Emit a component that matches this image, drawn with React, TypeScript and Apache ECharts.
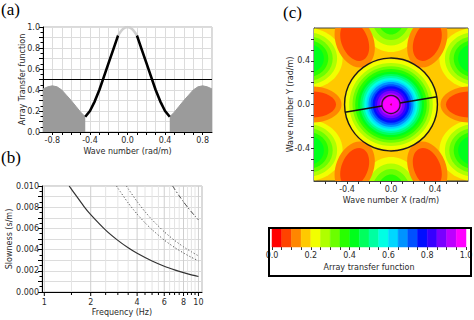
import { useEffect, useRef } from 'react';
import * as echarts from 'echarts';

// ---------- (a) array transfer function along one azimuth ----------
const waveNumber = [
  -0.9, -0.85, -0.8, -0.75, -0.7, -0.65, -0.6, -0.55, -0.5, -0.45, -0.4, -0.35, -0.3, -0.25, -0.2, -0.15, -0.1, -0.05,
  0, 0.05, 0.1, 0.15, 0.2, 0.25, 0.3, 0.35, 0.4, 0.45, 0.5, 0.55, 0.6, 0.65, 0.7, 0.75, 0.8, 0.85, 0.9,
];
const transferValue = [
  0.41, 0.43, 0.44, 0.43, 0.4, 0.35, 0.3, 0.245, 0.19, 0.145, 0.2, 0.29, 0.4, 0.53, 0.66, 0.79, 0.92, 0.98,
  1.0, 0.98, 0.92, 0.79, 0.66, 0.53, 0.4, 0.29, 0.2, 0.145, 0.19, 0.245, 0.3, 0.35, 0.4, 0.43, 0.44, 0.43, 0.41,
];
const halfPowerLevel = 0.5;
const mainLobeEdge = 0.45;
const peakCapEdge = 0.1;
const transferTicks = [0, 0.2, 0.4, 0.6, 0.8, 1.0];

// ---------- (b) slowness limits versus frequency ----------
const solidFreq = [1.45, 1.6, 1.8, 2, 2.5, 3, 3.5, 4, 5, 6, 7, 8, 9, 10];
const solidSlowness = [0.01, 0.00913, 0.00811, 0.0073, 0.00584, 0.00487, 0.00417, 0.00365, 0.00292, 0.00243, 0.00209, 0.00183, 0.00162, 0.00146];
const upperDottedFreq = [3.41, 3.5, 4, 4.5, 5, 6, 7, 8, 9, 10];
const upperDottedSlowness = [0.01, 0.00974, 0.00853, 0.00758, 0.00682, 0.00568, 0.00487, 0.00426, 0.00379, 0.00341];
const lowerDottedFreq = [2.94, 3, 3.5, 4, 4.5, 5, 6, 7, 8, 9, 10];
const lowerDottedSlowness = [0.01, 0.0098, 0.0084, 0.00735, 0.00653, 0.00588, 0.0049, 0.0042, 0.00368, 0.00327, 0.00294];
const dashedFreq = [6.8, 7, 7.5, 8, 8.5, 9, 9.5, 10];
const dashedSlowness = [0.01, 0.00971, 0.00907, 0.0085, 0.008, 0.00756, 0.00716, 0.0068];
const freqMajorTicks = [1, 2, 4, 6, 8, 10];
const freqMinorTicks = [1.5, 2.5, 3, 3.5, 4.5, 5, 5.5, 6.5, 7, 7.5, 8.5, 9, 9.5];

// ---------- (c) 2-D array transfer function ----------
const backgroundLevel = 0.17;
// [kx, ky, radius x, radius y, tilt (deg), level]
const sidelobeBands = [
  [-0.76, 0.42, 0.32, 0.28, 0, 0.2], [-0.76, 0.42, 0.27, 0.24, 0, 0.25], [-0.76, 0.42, 0.23, 0.205, 0, 0.3], [-0.76, 0.42, 0.19, 0.17, 0, 0.35], [-0.76, 0.42, 0.15, 0.135, 0, 0.4],
  [0.76, 0.42, 0.32, 0.28, 0, 0.2], [0.76, 0.42, 0.27, 0.24, 0, 0.25], [0.76, 0.42, 0.23, 0.205, 0, 0.3], [0.76, 0.42, 0.19, 0.17, 0, 0.35], [0.76, 0.42, 0.15, 0.135, 0, 0.4],
  [-0.76, -0.42, 0.32, 0.28, 0, 0.2], [-0.76, -0.42, 0.27, 0.24, 0, 0.25], [-0.76, -0.42, 0.23, 0.205, 0, 0.3], [-0.76, -0.42, 0.19, 0.17, 0, 0.35], [-0.76, -0.42, 0.15, 0.135, 0, 0.4],
  [0.76, -0.42, 0.32, 0.28, 0, 0.2], [0.76, -0.42, 0.27, 0.24, 0, 0.25], [0.76, -0.42, 0.23, 0.205, 0, 0.3], [0.76, -0.42, 0.19, 0.17, 0, 0.35], [0.76, -0.42, 0.15, 0.135, 0, 0.4],
  [0, 0.86, 0.3, 0.38, 0, 0.2], [0, 0.86, 0.24, 0.32, 0, 0.25], [0, 0.86, 0.19, 0.27, 0, 0.3], [0, 0.86, 0.14, 0.22, 0, 0.35],
  [0, -0.86, 0.3, 0.38, 0, 0.2], [0, -0.86, 0.24, 0.32, 0, 0.25], [0, -0.86, 0.19, 0.27, 0, 0.3], [0, -0.86, 0.14, 0.22, 0, 0.35],
];
const troughBands = [
  [-0.72, 0, 0.27, 0.165, 0, 0.12], [-0.72, 0, 0.22, 0.12, 0, 0.07],
  [0.72, 0, 0.27, 0.165, 0, 0.12], [0.72, 0, 0.22, 0.12, 0, 0.07],
  [-0.33, 0.58, 0.17, 0.25, 22, 0.12], [-0.33, 0.58, 0.12, 0.19, 22, 0.07],
  [0.33, 0.58, 0.17, 0.25, -22, 0.12], [0.33, 0.58, 0.12, 0.19, -22, 0.07],
  [-0.33, -0.58, 0.17, 0.25, -22, 0.12], [-0.33, -0.58, 0.12, 0.19, -22, 0.07],
  [0.33, -0.58, 0.17, 0.25, 22, 0.12], [0.33, -0.58, 0.12, 0.19, 22, 0.07],
];
const mainLobeLevels = [0.2, 0.25, 0.3, 0.35, 0.4, 0.45, 0.5, 0.55, 0.6, 0.65, 0.7, 0.75, 0.8, 0.85, 0.9, 0.95];
const mainLobeRadii = [0.415, 0.38, 0.35, 0.325, 0.3, 0.28, 0.26, 0.242, 0.223, 0.205, 0.186, 0.167, 0.147, 0.126, 0.102, 0.072];
const limitRingRadii = [0.425, 0.083];
const beamSegments = [
  [[-0.419, -0.071], [-0.082, -0.014]],
  [[0.082, 0.014], [0.419, 0.071]],
];
const colorbarEdges = [0, 0.05, 0.1, 0.15, 0.2, 0.25, 0.3, 0.35, 0.4, 0.45, 0.5, 0.55, 0.6, 0.65, 0.7, 0.75, 0.8, 0.85, 0.9, 0.95, 1.0];

const PALETTE = [
  '#FF0000', '#FF4300', '#FF8600', '#FFC900', '#F1FF00', '#AFFF00', '#6BFF00', '#28FF00', '#00FF1B', '#00FF5E',
  '#00FFA1', '#00FFE4', '#00D7FF', '#0093FF', '#0051FF', '#000EFF', '#3600FF', '#7900FF', '#BC00FF', '#FF00FF',
];
const FONT = '"DejaVu Sans", Verdana, sans-serif';
const SERIF = '"Liberation Serif", "Times New Roman", serif';
const TXT = '#2a2a2a';
const FS = 8;

function colorFor(level: number) {
  const i = Math.max(0, Math.min(19, Math.floor(level / 0.05 + 1e-6)));
  return PALETTE[i];
}

const curvePairs = waveNumber.map((k, i) => [k, transferValue[i]]);
const segment = (lo: number, hi: number) => curvePairs.filter(([k]) => k >= lo - 1e-9 && k <= hi + 1e-9);
const logPairs = (f: number[], s: number[]) => f.map((v, i) => [Math.log10(v), s[i]]);

const labelStyle = { fontSize: FS, fontFamily: FONT, color: TXT };
const nameStyle = { fontSize: FS, fontFamily: FONT, color: TXT };
const quarterLabel = (v: number) => {
  const r = Math.round(v * 10);
  return r % 4 === 0 ? (r === 0 ? '0.0' : (r / 10).toFixed(1)) : '';
};

export default function App() {
  const ref = useRef<HTMLDivElement>(null);

  useEffect(() => {
    if (!ref.current) return;
    const chart = echarts.init(ref.current, null, { renderer: 'svg' });

    const ellipseItem = (params: any, api: any) => {
      const c = api.coord([api.value(0), api.value(1)]);
      const s = api.size([api.value(2), api.value(3)]);
      return {
        type: 'ellipse',
        x: c[0],
        y: c[1],
        rotation: (api.value(4) * Math.PI) / 180,
        shape: { cx: 0, cy: 0, rx: Math.abs(s[0]), ry: Math.abs(s[1]) },
        style: { fill: colorFor(api.value(5)) },
      };
    };

    const contourData = [
      ...sidelobeBands,
      ...troughBands,
      ...mainLobeLevels.map((lv, i) => [0, 0, mainLobeRadii[i], mainLobeRadii[i], 0, lv]),
    ];

    const freqTickData = [
      ...freqMinorTicks.map((f) => [Math.log10(f), 0, 0, f]),
      ...freqMajorTicks.map((f) => [Math.log10(f), 0, 1, f]),
    ];

    const option: any = {
      animation: false,
      textStyle: { fontFamily: FONT },
      grid: [
        { left: 43, top: 27, width: 169, height: 105, show: true, borderColor: '#b5b5b5', borderWidth: 1, backgroundColor: '#fff', outerBoundsMode: 'none' },
        { left: 42, top: 186, width: 160, height: 106, show: true, borderColor: '#b5b5b5', borderWidth: 1, backgroundColor: '#fff', outerBoundsMode: 'none' },
        { left: 314, top: 28, width: 154, height: 153, show: true, borderColor: '#444', borderWidth: 1, backgroundColor: colorFor(backgroundLevel), outerBoundsMode: 'none' },
        { left: 272, top: 229, width: 194, height: 18, show: false, outerBoundsMode: 'none' },
      ],
      xAxis: [
        {
          gridIndex: 0, type: 'value', min: -0.9, max: 0.9, interval: 0.1,
          name: 'Wave number (rad/m)', nameLocation: 'middle', nameGap: 15, nameTextStyle: nameStyle, nameMoveOverlap: false,
          axisLine: { onZero: false, lineStyle: { color: '#000', width: 1 } },
          axisTick: { length: 3, lineStyle: { color: '#000' } },
          axisLabel: { ...labelStyle, margin: 4, showMinLabel: false, showMaxLabel: false, formatter: quarterLabel },
          splitLine: { show: true, lineStyle: { color: '#dcdcdc', width: 1 } },
        },
        {
          gridIndex: 1, type: 'value', min: -0.015, max: 1.023,
          name: 'Frequency (Hz)', nameLocation: 'middle', nameGap: 16, nameTextStyle: nameStyle, nameMoveOverlap: false,
          axisLine: { onZero: false, lineStyle: { color: '#000', width: 1 } },
          axisTick: { show: false }, axisLabel: { show: false }, splitLine: { show: false },
        },
        {
          gridIndex: 2, type: 'value', min: -0.7, max: 0.7, interval: 0.1,
          name: 'Wave number X (rad/m)', nameLocation: 'middle', nameGap: 15, nameTextStyle: nameStyle, nameMoveOverlap: false,
          axisLine: { onZero: false, lineStyle: { color: '#444', width: 1 } },
          axisTick: { length: 3, lineStyle: { color: '#333' } },
          axisLabel: { ...labelStyle, margin: 4, showMinLabel: false, showMaxLabel: false, formatter: quarterLabel },
          splitLine: { show: false },
        },
        {
          gridIndex: 3, type: 'value', min: 0, max: 1, interval: 0.2,
          name: 'Array transfer function', nameLocation: 'middle', nameGap: 16, nameTextStyle: nameStyle, nameMoveOverlap: false,
          axisLine: { show: false },
          axisTick: { show: true, length: 3, lineStyle: { color: '#333' } },
          minorTick: { show: true, splitNumber: 4, length: 3, lineStyle: { color: '#333' } },
          axisLabel: { ...labelStyle, margin: 4, formatter: (v: number) => v.toFixed(1) },
          splitLine: { show: false },
        },
      ],
      yAxis: [
        {
          gridIndex: 0, type: 'value', min: 0, max: 1, interval: 0.1,
          name: 'Array Transfer function', nameLocation: 'middle', nameGap: 17, nameTextStyle: nameStyle, nameMoveOverlap: false,
          axisLine: { onZero: false, lineStyle: { color: '#000', width: 1 } },
          axisTick: { length: 4, lineStyle: { color: '#000' } },
          minorTick: { show: true, splitNumber: 2, length: 2.5, lineStyle: { color: '#000' } },
          axisLabel: {
            ...labelStyle, margin: 3, showMinLabel: true, showMaxLabel: true,
            customValues: transferTicks,
            formatter: (v: number) => (Math.round(v * 10) / 10).toFixed(1),
          },
          splitLine: { show: true, lineStyle: { color: '#dcdcdc', width: 1 } },
        },
        {
          gridIndex: 1, type: 'value', min: 0, max: 0.01, interval: 0.001,
          name: 'Slowness (s/m)', nameLocation: 'middle', nameGap: 29, nameTextStyle: nameStyle, nameMoveOverlap: false,
          axisLine: { onZero: false, lineStyle: { color: '#000', width: 1 } },
          axisTick: { length: 4, lineStyle: { color: '#000' } },
          minorTick: { show: true, splitNumber: 2, length: 2.5, lineStyle: { color: '#000' } },
          axisLabel: {
            ...labelStyle, margin: 3, showMinLabel: true,
            formatter: (v: number) => { const r = Math.round(v * 1000); return r % 2 === 0 ? (r / 1000).toFixed(3) : ''; },
          },
          splitLine: { show: true, lineStyle: { color: '#dcdcdc', width: 1 } },
        },
        {
          gridIndex: 2, type: 'value', min: -0.7, max: 0.7, interval: 0.1,
          name: 'Wave number Y (rad/m)', nameLocation: 'middle', nameGap: 20, nameTextStyle: nameStyle, nameMoveOverlap: false,
          axisLine: { onZero: false, lineStyle: { color: '#444', width: 1 } },
          axisTick: { length: 3, lineStyle: { color: '#333' } },
          axisLabel: { ...labelStyle, margin: 4, showMinLabel: false, showMaxLabel: false, formatter: quarterLabel },
          splitLine: { show: false },
        },
        { gridIndex: 3, type: 'value', min: 0, max: 1, show: false },
      ],
      series: [
        // (a)
        {
          type: 'line', xAxisIndex: 0, yAxisIndex: 0, data: segment(-0.9, -mainLobeEdge), symbol: 'none', z: 2,
          lineStyle: { color: '#9b9b9b', width: 1 }, areaStyle: { color: '#9b9b9b', opacity: 1 },
        },
        {
          type: 'line', xAxisIndex: 0, yAxisIndex: 0, data: segment(mainLobeEdge, 0.9), symbol: 'none', z: 2,
          lineStyle: { color: '#9b9b9b', width: 1 }, areaStyle: { color: '#9b9b9b', opacity: 1 },
        },
        {
          type: 'line', xAxisIndex: 0, yAxisIndex: 0, data: segment(-mainLobeEdge, -peakCapEdge), symbol: 'none', z: 4,
          lineStyle: { color: '#000', width: 2.6 },
          markLine: {
            silent: true, symbol: ['none', 'none'], label: { show: false },
            lineStyle: { color: '#000', width: 1, type: 'solid' },
            data: [{ yAxis: halfPowerLevel }],
          },
        },
        {
          type: 'line', xAxisIndex: 0, yAxisIndex: 0, data: segment(peakCapEdge, mainLobeEdge), symbol: 'none', z: 4,
          lineStyle: { color: '#000', width: 2.6 },
        },
        {
          type: 'line', xAxisIndex: 0, yAxisIndex: 0, data: segment(-peakCapEdge, peakCapEdge), symbol: 'none', z: 4, smooth: 0.3,
          lineStyle: { color: '#cfcfcf', width: 2.6 },
        },
        // (b) frequency ticks, labels and vertical grid
        {
          type: 'custom', xAxisIndex: 1, yAxisIndex: 1, data: freqTickData, z: 1, silent: true,
          encode: { x: 0, y: 1 },
          renderItem: (params: any, api: any) => {
            const x = api.value(0);
            const major = api.value(2) === 1;
            const b = api.coord([x, 0]);
            const t = api.coord([x, 0.01]);
            const children: any[] = [
              { type: 'line', shape: { x1: b[0], y1: b[1], x2: t[0], y2: t[1] }, style: { stroke: major ? '#cfcfcf' : '#e4e4e4', lineWidth: 1 } },
              { type: 'line', shape: { x1: b[0], y1: b[1], x2: b[0], y2: b[1] + (major ? 4 : 3) }, style: { stroke: '#000', lineWidth: 1 } },
            ];
            if (major) {
              children.push({
                type: 'text', x: b[0], y: b[1] + 6,
                style: { text: String(api.value(3)), fontSize: FS, fontFamily: FONT, fill: TXT, align: 'center', verticalAlign: 'top' },
              });
            }
            return { type: 'group', children };
          },
        },
        {
          type: 'line', xAxisIndex: 1, yAxisIndex: 1, data: logPairs(solidFreq, solidSlowness), symbol: 'none', z: 3, smooth: 0.2,
          lineStyle: { color: '#333', width: 1.2 },
        },
        {
          type: 'line', xAxisIndex: 1, yAxisIndex: 1, data: logPairs(upperDottedFreq, upperDottedSlowness), symbol: 'none', z: 3, smooth: 0.2,
          lineStyle: { color: '#555', width: 1, type: [1.2, 2] },
        },
        {
          type: 'line', xAxisIndex: 1, yAxisIndex: 1, data: logPairs(lowerDottedFreq, lowerDottedSlowness), symbol: 'none', z: 3, smooth: 0.2,
          lineStyle: { color: '#555', width: 1, type: [1.2, 2] },
        },
        {
          type: 'line', xAxisIndex: 1, yAxisIndex: 1, data: logPairs(dashedFreq, dashedSlowness), symbol: 'none', z: 3, smooth: 0.2,
          lineStyle: { color: '#444', width: 1, type: [5, 2, 1.2, 2] },
        },
        // (c) contour bands
        {
          type: 'custom', xAxisIndex: 2, yAxisIndex: 2, data: contourData, clip: true, silent: true, z: 1,
          encode: { x: 0, y: 1 },
          renderItem: ellipseItem,
        },
        {
          type: 'custom', xAxisIndex: 2, yAxisIndex: 2, data: limitRingRadii.map((r) => [0, 0, r]), clip: true, silent: true, z: 3,
          encode: { x: 0, y: 1 },
          renderItem: (params: any, api: any) => {
            const c = api.coord([0, 0]);
            const s = api.size([api.value(2), api.value(2)]);
            return {
              type: 'circle', shape: { cx: c[0], cy: c[1], r: Math.abs(s[1]) },
              style: { fill: 'none', stroke: params.dataIndex === 0 ? '#1a1a1a' : '#3a1030', lineWidth: params.dataIndex === 0 ? 1.4 : 1.2 },
            };
          },
        },
        ...beamSegments.map((seg) => ({
          type: 'line', xAxisIndex: 2, yAxisIndex: 2, data: seg, symbol: 'none', z: 4,
          lineStyle: { color: '#111', width: 1.6 },
        })),
        {
          type: 'scatter', xAxisIndex: 2, yAxisIndex: 2, data: [[0, 0]], symbolSize: 2, z: 5,
          itemStyle: { color: '#b0003a' },
        },
        // colour bar
        {
          type: 'custom', xAxisIndex: 3, yAxisIndex: 3, silent: true, z: 2,
          data: colorbarEdges.slice(0, -1).map((e, i) => [e, 0, colorbarEdges[i + 1]]),
          encode: { x: [0, 2], y: 1 },
          renderItem: (params: any, api: any) => {
            const p0 = api.coord([api.value(0), 1]);
            const p1 = api.coord([api.value(2), 0]);
            const fill = colorFor(api.value(0) + 0.001);
            return {
              type: 'rect',
              shape: { x: p0[0], y: p0[1], width: p1[0] - p0[0], height: p1[1] - p0[1] },
              style: { fill, stroke: fill, lineWidth: 0.5 },
            };
          },
        },
      ],
      graphic: [
        { type: 'text', x: 1, y: 1, style: { text: '(a)', fontSize: 17, fontFamily: SERIF, fill: '#000', verticalAlign: 'top' } },
        { type: 'text', x: 1, y: 149, style: { text: '(b)', fontSize: 17, fontFamily: SERIF, fill: '#000', verticalAlign: 'top' } },
        { type: 'text', x: 283, y: 4, style: { text: '(c)', fontSize: 17, fontFamily: SERIF, fill: '#000', verticalAlign: 'top' } },
        { type: 'rect', shape: { x: 269, y: 228, width: 202, height: 48 }, style: { fill: 'none', stroke: '#000', lineWidth: 2 }, z: 10 },
      ],
    };

    chart.setOption(option);
    return () => chart.dispose();
  }, []);

  return <div ref={ref} style={{ position: 'absolute', left: 0, top: 0, width: 474, height: 320, background: '#fff' }} />;
}
